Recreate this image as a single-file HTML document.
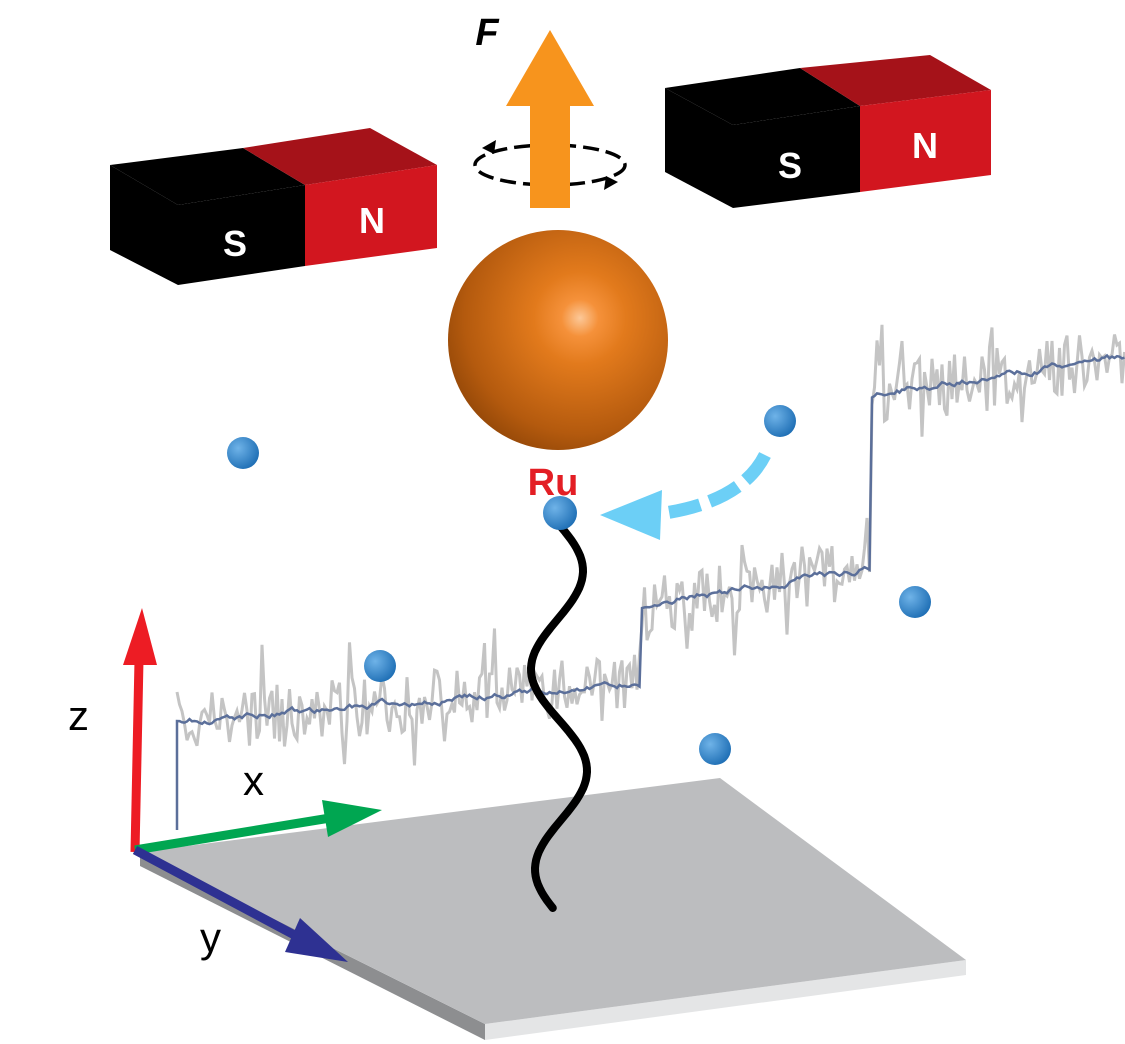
<!DOCTYPE html>
<html><head><meta charset="utf-8"><style>html,body{margin:0;padding:0;background:#fff}svg{display:block}</style></head>
<body>
<svg id="s" width="1125" height="1044" viewBox="0 0 1125 1044" xmlns="http://www.w3.org/2000/svg">
<defs>
<radialGradient id="sp" cx="0.6" cy="0.4" r="0.7">
<stop offset="0" stop-color="#fcc898"/><stop offset="0.12" stop-color="#f5913a"/><stop offset="0.3" stop-color="#e27a1c"/><stop offset="0.75" stop-color="#b45a0e"/><stop offset="1" stop-color="#8a4206"/></radialGradient>
<radialGradient id="bb" cx="0.35" cy="0.35" r="0.7"><stop offset="0" stop-color="#6fb3e8"/><stop offset="1" stop-color="#1f6fb5"/></radialGradient>
</defs>
<polygon points="140,852 485,1024 485,1040 140,866" fill="#8d8e90"/>
<polygon points="485,1024 966,960 966,975 485,1040" fill="#e4e5e6"/>
<polygon points="140,852 720,778 966,960 485,1024" fill="#bcbdbf"/>
<g id="trace"></g>
<polygon points="110,165 178,205 178,285 110,250" fill="#000"/>
<polygon points="110,165 243,148 305,185 178,205" fill="#000"/>
<polygon points="243,148 370,128 437,165 305,185" fill="#a51219"/>
<polygon points="178,205 305,185 305,266 178,285" fill="#000"/>
<polygon points="305,185 437,165 437,248 305,266" fill="#d2161f"/>
<text x="235" y="256" font-family="Liberation Sans,sans-serif" font-weight="bold" font-size="36" fill="#fff" text-anchor="middle">S</text>
<text x="372" y="233" font-family="Liberation Sans,sans-serif" font-weight="bold" font-size="36" fill="#fff" text-anchor="middle">N</text>
<polygon points="665,88 733,125 733,208 665,172" fill="#000"/>
<polygon points="665,88 800,68 860,106 733,125" fill="#000"/>
<polygon points="800,68 930,55 991,90 860,106" fill="#a51219"/>
<polygon points="733,125 860,106 860,192 733,208" fill="#000"/>
<polygon points="860,106 991,90 991,175 860,192" fill="#d2161f"/>
<text x="790" y="178" font-family="Liberation Sans,sans-serif" font-weight="bold" font-size="36" fill="#fff" text-anchor="middle">S</text>
<text x="925" y="158" font-family="Liberation Sans,sans-serif" font-weight="bold" font-size="36" fill="#fff" text-anchor="middle">N</text>
<ellipse cx="550" cy="165" rx="75" ry="20" fill="none" stroke="#000" stroke-width="3.5" stroke-dasharray="16,7"/>
<polygon points="482,148 496,140 494,154" fill="#000"/>
<polygon points="618,182 604,190 606,176" fill="#000"/>
<rect x="530" y="100" width="40" height="108" fill="#f7941d"/>
<polygon points="506,106 550,30 594,106" fill="#f7941d"/>
<text x="487" y="45" font-family="Liberation Sans,sans-serif" font-weight="bold" font-style="italic" font-size="38" fill="#000" text-anchor="middle">F</text>
<circle cx="558" cy="340" r="110" fill="url(#sp)"/>
<text x="553" y="495" font-family="Liberation Sans,sans-serif" font-weight="bold" font-size="38" fill="#e31e24" text-anchor="middle">Ru</text>
<path d="M765,455 Q740,505 650,515" fill="none" stroke="#6ccff6" stroke-width="13" stroke-dasharray="32,10"/>
<polygon points="600,515 662,490 660,540" fill="#6ccff6"/>
<path id="dna" fill="none" stroke="#000" stroke-width="8" stroke-linecap="round"/>
<g fill="url(#bb)">
<circle cx="243" cy="453" r="16"/><circle cx="780" cy="421" r="16"/><circle cx="560" cy="513" r="17"/>
<circle cx="915" cy="602" r="16"/><circle cx="380" cy="666" r="16"/><circle cx="715" cy="749" r="16"/></g>
<line x1="135" y1="852" x2="139" y2="660" stroke="#ed1c24" stroke-width="9"/>
<polygon points="123,665 142,608 157,665" fill="#ed1c24"/>
<line x1="135" y1="850" x2="330" y2="818" stroke="#00a651" stroke-width="9"/>
<polygon points="322,800 382,810 328,837" fill="#00a651"/>
<line x1="135" y1="850" x2="300" y2="938" stroke="#2e3192" stroke-width="9"/>
<polygon points="300,918 348,962 285,952" fill="#2e3192"/>
<text x="68" y="730" font-family="Liberation Sans,sans-serif" font-size="42">z</text>
<text x="243" y="795" font-family="Liberation Sans,sans-serif" font-size="42">x</text>
<text x="200" y="952" font-family="Liberation Sans,sans-serif" font-size="42">y</text>
</svg>
<script>
(function(){
var seed=7;function r(){seed=(seed*16807)%2147483647;return seed/2147483647;}
function lvl(x){if(x<640)return 722-(x-177)*0.085;if(x<870)return 605-(x-640)*0.16;return 395-(x-870)*0.15;}
var g=[],b=[],sm=0;
for(var x=177;x<=1125;x+=2.5){var L=lvl(x);var n=(r()-0.5)*60+(r()<0.12?(r()-0.5)*110:0);g.push(x+','+(L+n).toFixed(1));sm=sm*0.8+(r()-0.5)*12*0.2;b.push(x+','+(L+sm*2).toFixed(1));}
var t=document.getElementById('trace');
t.innerHTML='<polyline points="'+g.join(' ')+'" fill="none" stroke="#c4c4c4" stroke-width="3"/><polyline points="177,830 177,735 '+b.join(' ')+'" fill="none" stroke="#5b6f9a" stroke-width="2.5"/>';
var d='M560,520';for(var y=520;y<=910;y+=4){var xx=555+27*Math.sin((y-520)/200*Math.PI*2)+ (y-520)*0.02;d+=' L'+xx.toFixed(1)+','+y;}
document.getElementById('dna').setAttribute('d',d);
})();
</script>
</body></html>
